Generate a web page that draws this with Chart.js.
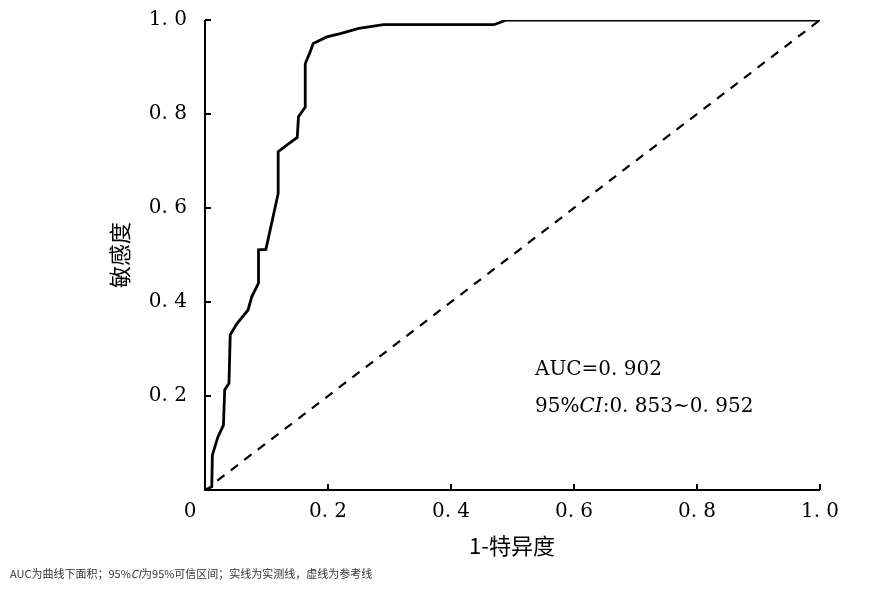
<!DOCTYPE html>
<html><head><meta charset="utf-8">
<script src="https://cdn.jsdelivr.net/npm/chart.js@4"></script>
<style>html,body{margin:0;padding:0;background:#fff}#w{width:878px;height:592px;position:relative}</style>
</head><body><div id="w"><canvas id="c"></canvas></div>
<script>
const rocX = [0,0.011,0.012,0.021,0.030,0.032,0.039,0.041,0.052,0.070,0.076,0.087,0.087,0.099,0.119,0.119,0.133,0.150,0.152,0.163,0.163,0.170,0.176,0.198,0.220,0.25,0.29,0.47,0.49,1.0];
const rocY = [0,0.007,0.074,0.113,0.138,0.213,0.227,0.330,0.354,0.383,0.411,0.440,0.511,0.512,0.631,0.720,0.734,0.750,0.794,0.815,0.907,0.929,0.950,0.964,0.971,0.982,0.99,0.99,1.0,1.0];
const refX = [0.02,1.0];
const refY = [0.02,1.0];
const xTicks = [0,0.2,0.4,0.6,0.8,1.0];
const yTicks = [0.2,0.4,0.6,0.8,1.0];
const xLabels = ['0','0. 2','0. 4','0. 6','0. 8','1. 0'];
const yLabels = ['0. 2','0. 4','0. 6','0. 8','1. 0'];

const deco = {
  id:'deco',
  afterDraw(ch){
    const c=ch.ctx, xs=ch.scales.x, ys=ch.scales.y, a=ch.chartArea;
    c.save();
    c.strokeStyle='#000'; c.lineWidth=2;
    c.beginPath(); c.moveTo(a.left,a.top); c.lineTo(a.left,a.bottom); c.lineTo(a.right,a.bottom); c.stroke();
    c.fillStyle='#000'; c.font='20px "DejaVu Serif", "Liberation Serif", serif';
    c.textBaseline='middle';
    xTicks.forEach((v,i)=>{
      const px=xs.getPixelForValue(v);
      if(v>0){c.beginPath();c.moveTo(px,a.bottom);c.lineTo(px,a.bottom-6);c.stroke();}
      c.textAlign='center';
      c.fillText(xLabels[i], v===0?px-15:px, a.bottom+22);
    });
    yTicks.forEach((v,i)=>{
      const py=ys.getPixelForValue(v);
      c.beginPath();c.moveTo(a.left,py);c.lineTo(a.left+6,py);c.stroke();
      c.textAlign='right'; c.fillText(yLabels[i], a.left-18, py);
    });
    c.font='22px "Noto Sans CJK SC", sans-serif';
    c.textAlign='center';
    c.fillText('1-特异度', 512, 546);
    c.save(); c.translate(120,255); c.rotate(-Math.PI/2); c.fillText('敏感度',0,0); c.restore();
    c.textAlign='left';
    c.font='20px "DejaVu Serif", "Liberation Serif", serif';
    c.fillText('AUC=0. 902', 535, 370);
    let x=535;
    c.fillText('95%',x,407); x+=c.measureText('95%').width;
    c.font='italic 20px "DejaVu Serif", "Liberation Serif", serif';
    c.fillText('CI',x,407); x+=c.measureText('CI').width;
    c.font='20px "DejaVu Serif", "Liberation Serif", serif';
    c.fillText(':0. 853~0. 952',x,407);
    // caption
    c.font='11px "Noto Sans CJK SC", sans-serif'; c.fillStyle='#333';
    x=10; const cy=574;
    const parts=[['AUC为曲线下面积；95%',''],['CI','italic '],['为95%可信区间；实线为实测线，虚线为参考线','']];
    parts.forEach(p=>{c.font=p[1]+'11px "Noto Sans CJK SC", sans-serif'; c.fillText(p[0],x,cy); x+=c.measureText(p[0]).width;});
    c.restore();
  }
};

new Chart(document.getElementById('c'),{
  type:'scatter',
  data:{datasets:[
    {data:rocX.map((v,i)=>({x:v,y:rocY[i]})),showLine:true,borderColor:'#000',borderWidth:2.8,pointRadius:0,tension:0},
    {data:refX.map((v,i)=>({x:v,y:refY[i]})),showLine:true,borderColor:'#000',borderWidth:2.2,borderDash:[9,8],pointRadius:0}
  ]},
  options:{responsive:true,maintainAspectRatio:false,animation:false,
    layout:{padding:{left:205,top:20,right:58,bottom:102}},
    plugins:{legend:{display:false},tooltip:{enabled:false}},
    scales:{x:{type:'linear',min:0,max:1,display:false},y:{type:'linear',min:0,max:1,display:false}}
  },
  plugins:[deco]
});
</script></body></html>
